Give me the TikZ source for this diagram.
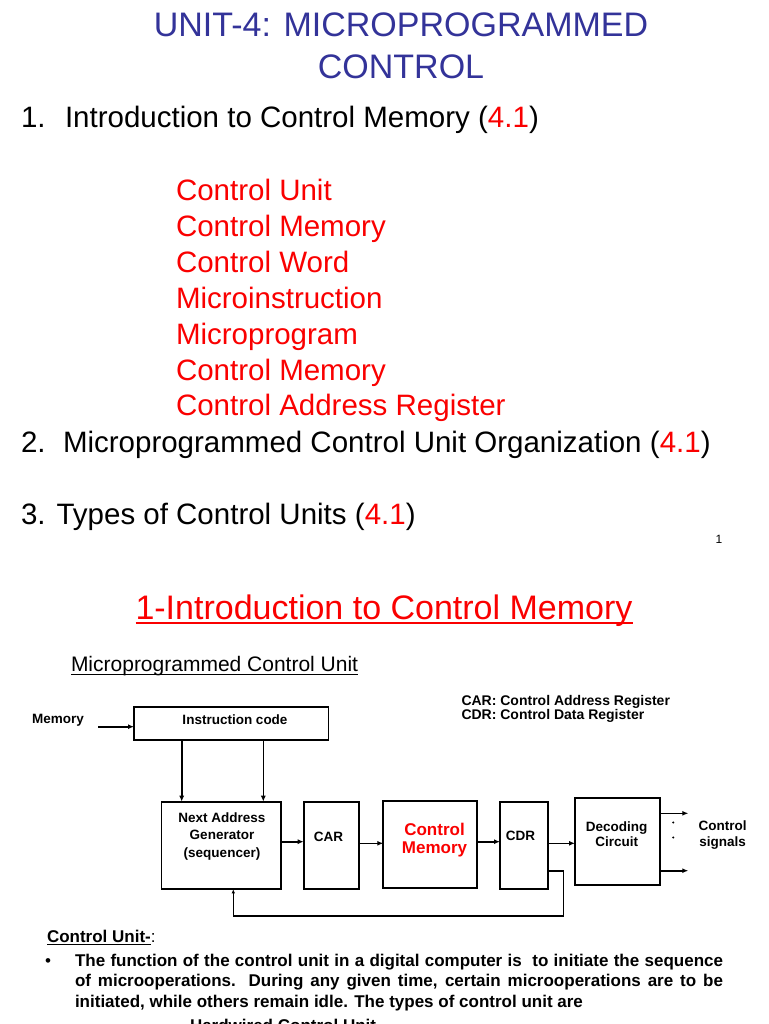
\documentclass[tikz,border=0pt]{standalone}
\usepackage{fontspec}
\setmainfont{Liberation Sans}
\usetikzlibrary{arrows.meta}
\definecolor{titleblue}{RGB}{51,51,153}
\definecolor{sred}{RGB}{250,0,0}
\newcommand{\fsz}[2]{\fontsize{#1}{#2}\selectfont}
\begin{document}
\begin{tikzpicture}[x=1pt,y=-1pt,
  txt/.style={inner sep=0pt, outer sep=0pt},
  big/.style={txt, anchor=base west, font=\fsz{29.5}{35}},
  redl/.style={big, text=sred},
  box/.style={draw, line width=1.8pt, inner sep=0pt, outer sep=0pt},
  arr/.style={line width=1.6pt, -{Latex[length=6pt,width=5pt]}},
  dlab/.style={txt, font=\fsz{13.5}{17.5}\bfseries, align=center},
  para/.style={txt, anchor=base west, font=\fsz{17}{20}\bfseries},
]
\fill[white] (0,0) rectangle (768,1024);
\useasboundingbox (0,0) rectangle (768,1024);

% ---------- Title slide part ----------
\node[txt, anchor=base, font=\fsz{34}{40}, text=titleblue] (t1) at (401,37) {UNIT-4: MICROPROGRAMMED};
\node[txt, anchor=base, font=\fsz{34}{40}, text=titleblue] (t2) at (401,78.5) {CONTROL};

\node[big] (n1) at (21,128) {1.};
\node[big] (l1) at (65,128) {Introduction to Control Memory (\textcolor{sred}{4.1})};

\node[redl] (r1) at (176,201) {Control Unit};
\node[redl] (r2) at (176,236.8) {Control Memory};
\node[redl] (r3) at (176,272.6) {Control Word};
\node[redl] (r4) at (176,308.4) {Microinstruction};
\node[redl] (r5) at (176,344.2) {Microprogram};
\node[redl] (r6) at (176,380) {Control Memory};
\node[redl] (r7) at (176,415.8) {Control Address Register};

\node[big] (n2) at (21,452) {2.};
\node[big] (l2) at (63,452) {Microprogrammed Control Unit Organization (\textcolor{sred}{4.1})};

\node[big] (l3) at (21,524) {3. Types of Control Units (\textcolor{sred}{4.1})};

\node[txt, anchor=base, font=\fsz{12}{14}] (pg) at (719,543) {1};

% ---------- Second slide ----------
\node[txt, anchor=base, font=\fsz{34}{40}, text=sred] (h1) at (384,619) {1-Introduction to Control Memory};
\draw[sred, line width=1.8pt] ([yshift=-4pt]h1.base west) -- ([yshift=-4pt]h1.base east);

\node[txt, anchor=base west, font=\fsz{21}{25}] (h2) at (71,671.5) {Microprogrammed Control Unit};
\draw[line width=1.2pt] ([yshift=-2.8pt]h2.base west) -- ([yshift=-2.8pt]h2.base east);

\node[txt, anchor=west, align=left, font=\fsz{14}{14.4}\bfseries] (leg) at (461.5,708.8)
  {CAR: Control Address Register\\CDR: Control Data Register};

% boxes
\node[box, minimum width=194.5pt, minimum height=33pt] (ic) at (231.25,723.5) {};
\node[box, minimum width=119.2pt, minimum height=87.6pt] (nag) at (221.1,845.5) {};
\node[box, minimum width=55.3pt, minimum height=87pt] (car) at (331.35,845.8) {};
\node[box, minimum width=93.4pt, minimum height=87.3pt] (cm) at (430,844.65) {};
\node[box, minimum width=48.3pt, minimum height=86.7pt] (cdr) at (524.15,845.65) {};
\node[box, line width=2.2pt, minimum width=85pt, minimum height=86.7pt] (dec) at (617.5,841.65) {};

% labels
\node[dlab] (memt) at (58,720) {Memory};
\node[dlab] (ict) at (235,720) {Instruction code};
\node[dlab] (nagt) at (222,836) {Next Address\\Generator\\(sequencer)};
\node[dlab] (cart) at (328.5,837) {CAR};
\node[dlab, font=\fsz{17}{18.5}\bfseries, text=sred] (cmt) at (434.5,840) {Control\\Memory};
\node[dlab] (cdrt) at (520.5,836) {CDR};
\node[dlab, font=\fsz{13.5}{15}\bfseries] (dect) at (616.7,834.5) {Decoding\\Circuit};
\node[dlab, font=\fsz{13.5}{15.6}\bfseries] (sigt) at (722.5,835) {Control\\signals};

% connector coordinates
\coordinate (memin) at (98,726.7);
\coordinate (d1) at (181.7,0);
\coordinate (d2) at (263.3,0);
\coordinate (ya) at (0,841.7);
\coordinate (yb) at (0,843.3);
\coordinate (o1) at (688.3,813.3);
\coordinate (o2) at (688.3,870.7);
\coordinate (fa) at (563.3,870.7);
\coordinate (fb) at (233.3,915.7);

\draw[arr] (memin) -- (memin -| ic.west);
\draw[arr] (ic.south -| d1) -- (nag.north -| d1);
\draw[arr] (ic.south -| d2) -- (nag.north -| d2);
\draw[arr] (nag.east |- ya) -- (car.west |- ya);
\draw[arr] (car.east |- yb) -- (cm.west |- yb);
\draw[arr] (cm.east |- ya) -- (cdr.west |- ya);
\draw[arr] (cdr.east |- yb) -- (dec.west |- yb);
\draw[arr] (dec.east |- o1) -- (o1);
\draw[arr] (dec.east |- o2) -- (o2);
\draw[arr, -{Latex[length=4pt,width=3.5pt]}] (cdr.east |- fa) -- (fa) |- (fb) -- (fb |- nag.south);

\fill (673.3,822.5) circle (1.1pt);
\fill (673.3,837.5) circle (1.1pt);

% ---------- paragraph ----------
\node[txt, anchor=base west, font=\fsz{17}{20}\bfseries] (cu) at (47,942) {Control Unit-};
\draw[line width=1.1pt] ([yshift=-2.6pt]cu.base west) -- ([yshift=-2.6pt]cu.base east);
\node[txt, anchor=base west, font=\fsz{17}{20}] (cuc) at (cu.base east) {:};

\node[txt, anchor=base west, font=\fsz{17}{20}] (bul) at (45,966) {\textbullet};
\node[para] (p1) at (75,966) {\makebox[648pt][s]{The function of the control unit in a digital computer is\ \ to initiate the sequence}};
\node[para] (p2) at (75,986.7) {\makebox[648pt][s]{of microoperations. During any given time, certain microoperations are to be}};
\node[para] (p3) at (75,1007.4) {initiated, while others remain idle. The types of control unit are};
\begin{scope}
\clip (0,0) rectangle (768,1024);
\node[para] (p4) at (190,1031.5) {Hardwired Control Unit};
\end{scope}
\end{tikzpicture}
\end{document}
